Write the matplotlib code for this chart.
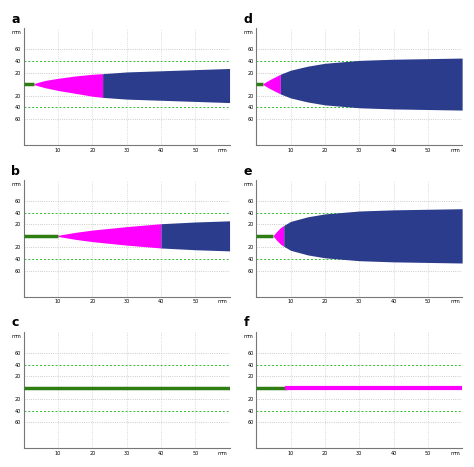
import matplotlib.pyplot as plt
import numpy as np

GREEN = "#2e7d12"
MAGENTA = "#ff00ff"
BLUE = "#2b3c8c"

# each panel: green start/end, magenta segment, blue segment with half-widths
# (x points, upper, lower)
panels = {
    "a": dict(green=(0, 3),
              mag_x=[3, 6, 10, 15, 20, 23], mag_up=[1, 6, 10, 14, 17, 18], mag_lo=[-1, -6, -11, -16, -21, -23],
              blue_x=[23, 30, 40, 50, 60], blue_up=[18, 21, 23, 25, 27], blue_lo=[-23, -26, -28, -30, -32]),
    "b": dict(green=(0, 10),
              mag_x=[10, 15, 20, 30, 40], mag_up=[1, 6, 10, 16, 21], mag_lo=[-1, -6, -10, -16, -21],
              blue_x=[40, 50, 60], blue_up=[21, 24, 26], blue_lo=[-21, -24, -26]),
    "c": dict(green=(0, 60)),
    "d": dict(green=(0, 2),
              mag_x=[2, 4, 6, 7], mag_up=[1, 8, 14, 17], mag_lo=[-1, -8, -14, -17],
              blue_x=[7, 10, 15, 20, 30, 40, 50, 60], blue_up=[17, 24, 31, 36, 41, 43, 44, 45],
              blue_lo=[-17, -24, -31, -36, -41, -43, -44, -45]),
    "e": dict(green=(0, 5),
              mag_x=[5, 6, 7, 8], mag_up=[1, 8, 14, 18], mag_lo=[-1, -8, -14, -18],
              blue_x=[8, 10, 15, 20, 30, 40, 50, 60], blue_up=[18, 25, 33, 38, 43, 45, 46, 47],
              blue_lo=[-18, -25, -33, -38, -43, -45, -46, -47]),
    "f": dict(green=(0, 9), thin=(9, 60)),
}
order = [["a", "d"], ["b", "e"], ["c", "f"]]
xticks = [10, 20, 30, 40, 50]
yticks = [60, 40, 20, -20, -40, -60]

fig, axes = plt.subplots(3, 2, figsize=(4.74, 4.67), dpi=100)
fig.subplots_adjust(left=0.05, right=0.975, top=0.94, bottom=0.04, wspace=0.13, hspace=0.3)

for r in range(3):
    for c in range(2):
        key = order[r][c]
        p = panels[key]
        ax = axes[r][c]
        ax.set_xlim(0, 60)
        ax.set_ylim(-105, 97)
        for t in xticks:
            ax.axvline(t, color="#cccccc", lw=0.6, ls=":", zorder=0)
        for t in yticks:
            if abs(t) == 40:
                ax.axhline(t, color="#33bb33", lw=0.7, ls=(0, (2, 2)), zorder=0)
            else:
                ax.axhline(t, color="#bbbbbb", lw=0.6, ls=":", zorder=0)
        g0, g1 = p["green"]
        ax.plot([g0, g1], [0, 0], color=GREEN, lw=2.5, solid_capstyle="butt", zorder=3)
        if "mag_x" in p:
            ax.fill_between(p["mag_x"], p["mag_lo"], p["mag_up"], color=MAGENTA, lw=0, zorder=2)
            ax.fill_between(p["blue_x"], p["blue_lo"], p["blue_up"], color=BLUE, lw=0, zorder=2)
        if "thin" in p:
            ax.plot(p["thin"], [0, 0], color=MAGENTA, lw=3, zorder=3)
        ax.set_xticks(xticks + [58])
        ax.set_xticklabels([str(t) for t in xticks] + ["mm"])
        ax.set_yticks(yticks + [90])
        ax.set_yticklabels([str(abs(t)) for t in yticks] + ["mm"])
        ax.tick_params(length=0, labelsize=3.5, pad=2)
        for s in ["top", "right"]:
            ax.spines[s].set_visible(False)
        ax.spines["left"].set_color("#777777")
        ax.spines["bottom"].set_color("#777777")
        ax.text(-0.06, 1.13, key, transform=ax.transAxes, fontsize=9, fontweight="bold",
                va="top", ha="left")

fig.savefig("out.png", dpi=100)
